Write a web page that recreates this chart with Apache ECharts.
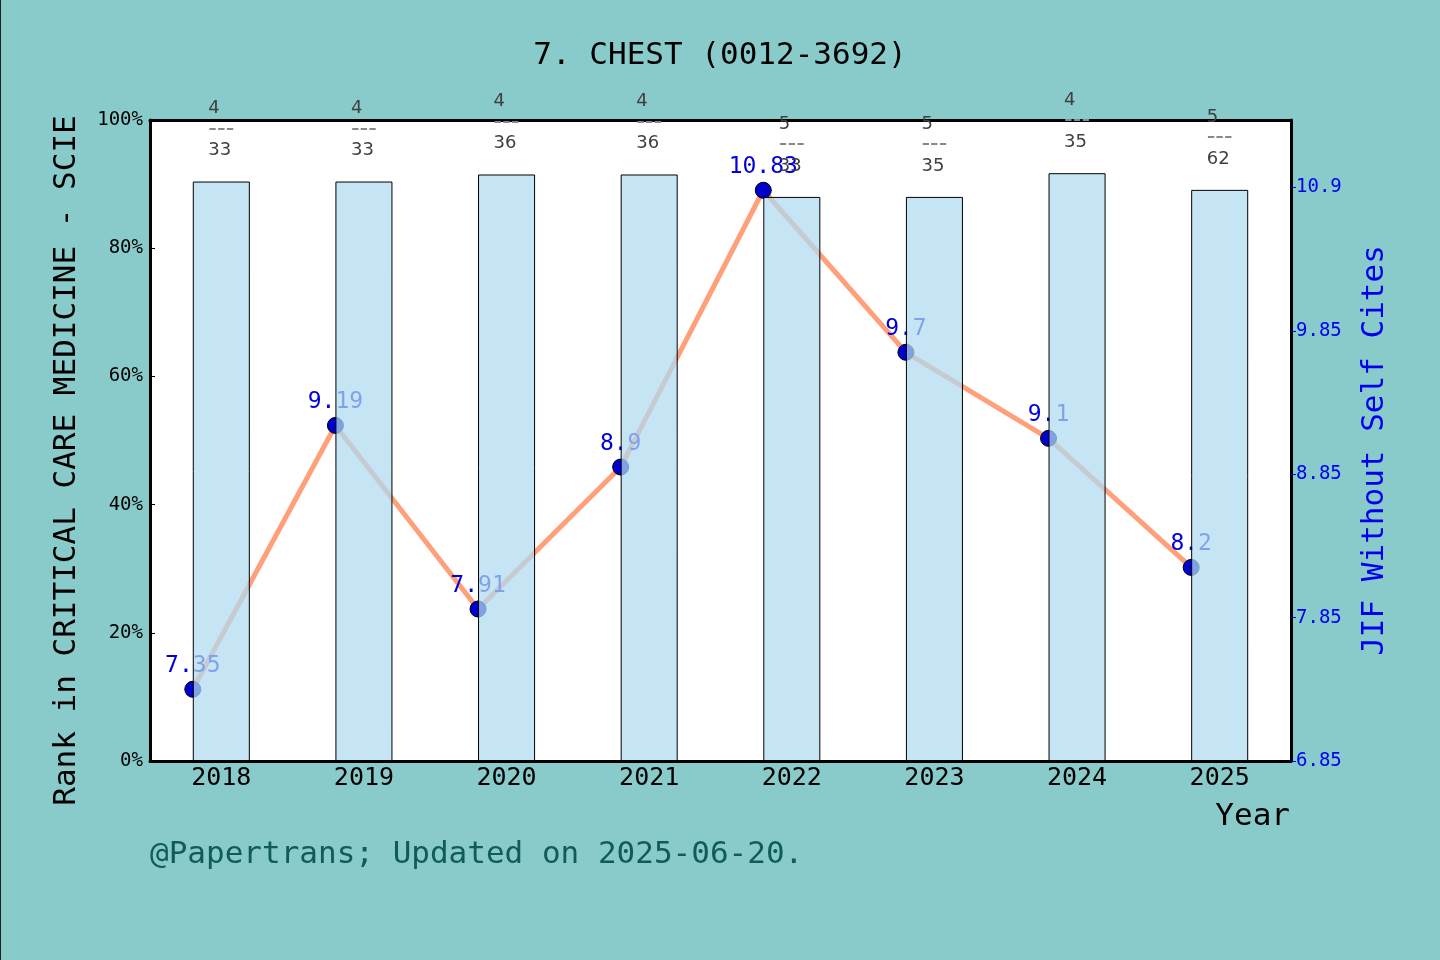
<!DOCTYPE html>
<html>

<head>
    <meta charset="utf-8">
    <title>7. CHEST (0012-3692)</title>
    <script src="https://cdn.jsdelivr.net/npm/echarts@6/dist/echarts.min.js"></script>
    <style>
        html, body {
            margin: 0;
            padding: 0;
        }

        .chart {
            width: 1440px;
            height: 960px;
        }
    </style>
</head>

<body>

    <div id="main" class="chart"></div>

    <script type="text/javascript">

        // data
        var years = ['2018', '2019', '2020', '2021', '2022', '2023', '2024', '2025'];
        var rankPct = [90.4, 90.4, 91.5, 91.5, 88.0, 88.0, 91.7, 89.1];
        var rankNum = [4, 4, 4, 4, 5, 5, 4, 5];
        var rankTotal = [33, 33, 36, 36, 33, 35, 35, 62];
        var jifNoSelf = [7.35, 9.19, 7.91, 8.9, 10.83, 9.7, 9.1, 8.2];
        var jifTicks = ['6.85', '7.85', '8.85', '9.85', '10.9'];

        var mono = 'DejaVu Sans Mono';
        var lineShift = -0.2;   // points sit on the left edge of the bars

        var lineData = [];
        for (var i = 0; i < jifNoSelf.length; i++) {
            lineData.push([i + lineShift, jifNoSelf[i]]);
        }

        var myChart = echarts.init(document.getElementById('main'));

        var option = {
            backgroundColor: '#88cbca',
            animation: false,
            title: [{
                text: '7. CHEST (0012-3692)',
                left: 'center',
                top: 40,
                padding: 0,
                textStyle: { fontFamily: mono, fontSize: 31, fontWeight: 'normal', color: '#000' }
            }, {
                text: 'Year',
                right: 150,
                top: 801,
                padding: 0,
                textStyle: { fontFamily: mono, fontSize: 31, fontWeight: 'normal', color: '#000' }
            }, {
                text: '@Papertrans; Updated on 2025-06-20.',
                left: 150,
                top: 839,
                padding: 0,
                textStyle: { fontFamily: mono, fontSize: 31, fontWeight: 'normal', color: '#105c5b' }
            }],
            graphic: [{
                type: 'line',
                shape: { x1: 0.5, y1: 0, x2: 0.5, y2: 960 },
                style: { stroke: '#222', lineWidth: 1 },
                silent: true
            }],
            grid: {
                left: 150,
                right: 149,
                top: 120,
                bottom: 199,
                show: true,
                backgroundColor: '#fff',
                borderWidth: 0
            },
            xAxis: [{
                type: 'category',
                data: years,
                axisLine: { lineStyle: { color: '#000', width: 3 } },
                axisTick: { inside: true, length: 5, lineStyle: { color: '#000', width: 1 } },
                axisLabel: { fontFamily: mono, fontSize: 25, color: '#000', margin: 5 }
            }, {
                type: 'value',
                position: 'top',
                min: -0.5,
                max: 7.5,
                axisLine: { show: true, onZero: false, lineStyle: { color: '#000', width: 3 } },
                axisTick: { show: false },
                axisLabel: { show: false },
                splitLine: { show: false }
            }],
            yAxis: [{
                type: 'value',
                min: 0,
                max: 100,
                interval: 20,
                name: 'Rank in CRITICAL CARE MEDICINE - SCIE',
                nameLocation: 'middle',
                nameGap: 68,
                nameRotate: 90,
                nameTextStyle: { fontFamily: mono, fontSize: 31, color: '#000', padding: [0, 40, 0, 0] },
                axisLine: { show: true, onZero: false, lineStyle: { color: '#000', width: 3 } },
                axisTick: { show: true, inside: true, length: 5, lineStyle: { color: '#000', width: 1 } },
                axisLabel: { fontFamily: mono, fontSize: 19, color: '#000', formatter: '{value}%', margin: 7 },
                splitLine: { show: false }
            }, {
                type: 'value',
                position: 'right',
                min: 6.85,
                max: 11.32,
                interval: 1,
                name: 'JIF Without Self Cites',
                nameLocation: 'middle',
                nameGap: 68,
                nameRotate: 90,
                nameTextStyle: { fontFamily: mono, fontSize: 31, color: '#0000ee', padding: [0, 20, 0, 0] },
                axisLine: { show: true, onZero: false, lineStyle: { color: '#000', width: 3 } },
                axisTick: { show: true, length: 5, lineStyle: { color: '#0000ee', width: 1 } },
                axisLabel: {
                    fontFamily: mono, fontSize: 19, color: '#0000ee', margin: 5,
                    showMaxLabel: false,
                    formatter: function (v) {
                        var k = Math.round(v - 6.85);
                        if (Math.abs(v - 6.85 - k) > 0.01) return '';
                        return jifTicks[k] || '';
                    }
                },
                splitLine: { show: false }
            }],
            series: [{
                name: 'JIF Without Self Cites',
                type: 'line',
                xAxisIndex: 1,
                yAxisIndex: 1,
                z: 2,
                data: lineData,
                symbol: 'circle',
                symbolSize: 16,
                lineStyle: { color: '#ffa07a', width: 5 },
                itemStyle: { color: '#0000cd', borderColor: '#000', borderWidth: 1 },
                label: {
                    show: true,
                    position: 'top',
                    distance: 3,
                    fontFamily: mono,
                    fontSize: 23,
                    color: '#0000dd',
                    formatter: function (p) { return String(p.value[1]); }
                }
            }, {
                name: 'Rank',
                type: 'bar',
                xAxisIndex: 0,
                yAxisIndex: 0,
                z: 3,
                barWidth: '40%',
                data: rankPct,
                itemStyle: { color: 'rgba(175,219,241,0.73)', borderColor: '#000', borderWidth: 1 },
                label: {
                    show: true,
                    position: 'top',
                    distance: 20,
                    formatter: function (p) {
                        var i = p.dataIndex;
                        return '{n|' + rankNum[i] + '}\n{d|---}\n{n|' + rankTotal[i] + '}';
                    },
                    rich: {
                        n: { fontFamily: 'DejaVu Sans', fontSize: 18, color: '#404040', lineHeight: 22, align: 'left' },
                        d: { fontFamily: 'DejaVu Sans', fontSize: 24, color: '#888', lineHeight: 20, align: 'left' }
                    }
                }
            }]
        };

        myChart.setOption(option);

    </script>
</body>

</html>
